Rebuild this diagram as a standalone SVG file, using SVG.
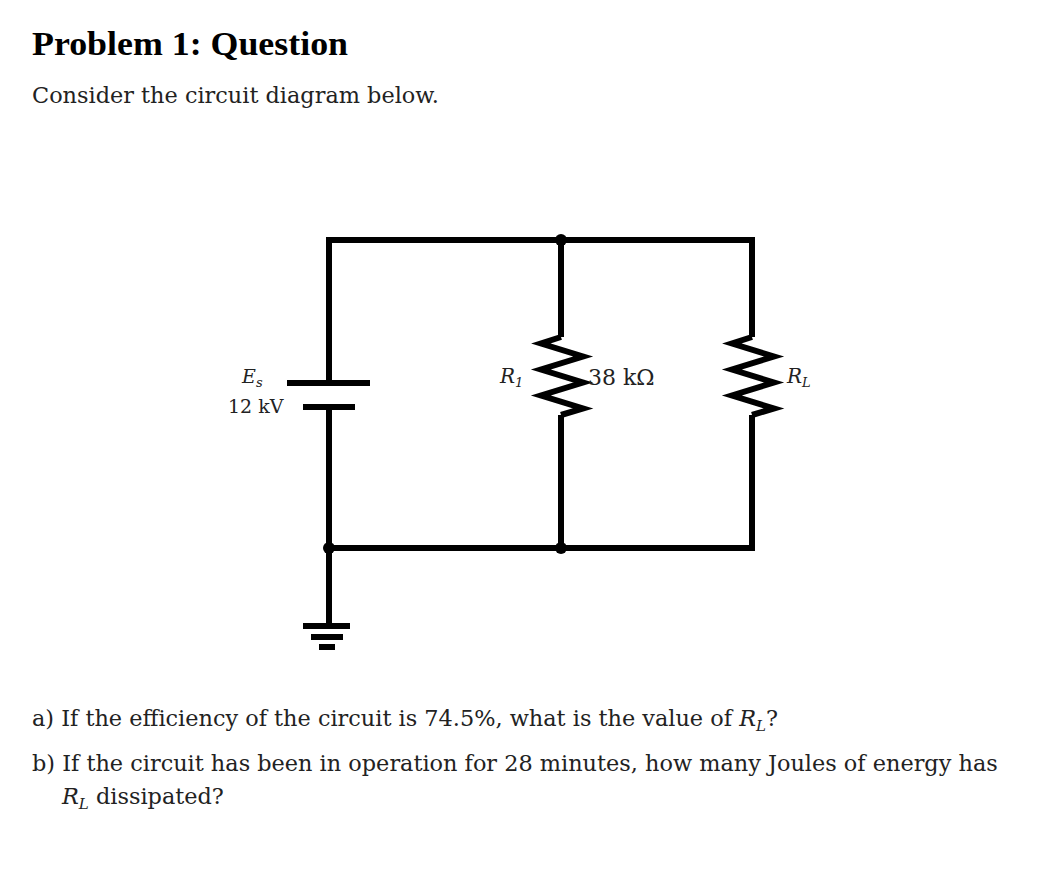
<svg xmlns="http://www.w3.org/2000/svg" width="1063" height="880" viewBox="0 0 1063 880">
<style>
.w{stroke:#000;stroke-width:6;fill:none;stroke-linejoin:miter}
.t{font-family:"Liberation Serif",serif;fill:#000}
.c{font-family:"DejaVu Serif","Liberation Serif",serif;fill:#222}
</style>
<rect width="1063" height="880" fill="#fff"/>
<text class="t" x="32" y="55" font-size="34" font-weight="bold" textLength="316" lengthAdjust="spacingAndGlyphs">Problem 1: Question</text>
<text class="c" x="32" y="103" font-size="22.4">Consider the circuit diagram below.</text>
<g id="wires" class="w">
<path d="M329,383 V240 H752 V337"/>
<path d="M561,240 V337"/>
<path d="M561,415 V548"/>
<path d="M752,415 V548 H329 V407"/>
<path d="M329,548 V626"/>
</g>
<g id="battery" class="w">
<path d="M287,383 H370"/>
<path d="M303,407 H355"/>
</g>
<g id="ground" class="w">
<path d="M303,626 H350"/><path d="M311,637 H343"/><path d="M319,647 H335"/>
</g>
<g id="R1" class="w"><path d="M561,337 l-20,6.5 l42,13 l-42,13 l42,13 l-42,13 l42,13 l-22,6.5"/></g>
<g id="RL" class="w"><path d="M752,337 l-20,6.5 l42,13 l-42,13 l42,13 l-42,13 l42,13 l-22,6.5"/></g>
<g id="dots" fill="#000">
<circle cx="561" cy="240" r="6"/><circle cx="561" cy="548" r="6"/><circle cx="329" cy="548" r="6"/>
</g>
<text class="c" x="242" y="383" font-size="19" font-style="italic">E<tspan font-size="13" dy="4">s</tspan></text>
<text class="c" x="228" y="413" font-size="19">12 kV</text>
<text class="c" x="500" y="383" font-size="20" font-style="italic">R<tspan font-size="13" dy="4">1</tspan></text>
<text class="c" x="588" y="385" font-size="22">38 kΩ</text>
<text class="c" x="787" y="383" font-size="20" font-style="italic">R<tspan font-size="13" dy="4">L</tspan></text>
<text class="c" x="32" y="726" font-size="22.4">a) If the efficiency of the circuit is 74.5%, what is the value of <tspan font-style="italic">R</tspan><tspan font-style="italic" font-size="15" dy="5">L</tspan><tspan dy="-5">?</tspan></text>
<text class="c" x="32" y="771" font-size="22.4">b) If the circuit has been in operation for 28 minutes, how many Joules of energy has</text>
<text class="c" x="62" y="804" font-size="22.4"><tspan font-style="italic">R</tspan><tspan font-style="italic" font-size="15" dy="5">L</tspan><tspan dy="-5"> dissipated?</tspan></text>
</svg>
